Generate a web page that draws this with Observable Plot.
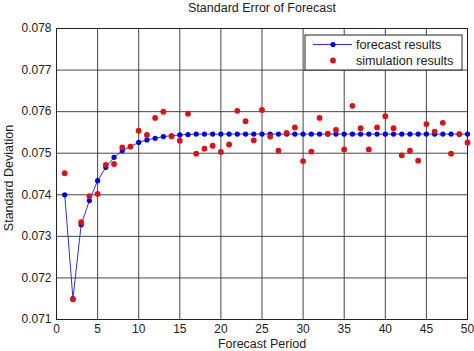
<!DOCTYPE html>
<html>
<head>
<meta charset="utf-8">
<script src="https://cdn.jsdelivr.net/npm/d3@7"></script>
<script src="https://cdn.jsdelivr.net/npm/@observablehq/plot@0.6"></script>
<style>
  html, body { margin: 0; padding: 0; background: #fff; }
  #chart { position: relative; width: 474px; height: 351px; }
  svg { font-family: "Liberation Sans", Arial, sans-serif; }
</style>
</head>
<body>
<div id="chart"></div>
<script>
const periods = [1,2,3,4,5,6,7,8,9,10,11,12,13,14,15,16,17,18,19,20,21,22,23,24,25,26,27,28,29,30,31,32,33,34,35,36,37,38,39,40,41,42,43,44,45,46,47,48,49,50];
const forecast = [0.07400,0.07150,0.07328,0.07386,0.07434,0.07466,0.07490,0.07506,0.07516,0.07526,0.07532,0.07536,0.07540,0.07542,0.07544,0.07545,0.07546,0.07546,0.07546,0.07546,0.07546,0.07546,0.07546,0.07546,0.07546,0.07546,0.07546,0.07546,0.07546,0.07546,0.07546,0.07546,0.07546,0.07546,0.07546,0.07546,0.07546,0.07546,0.07546,0.07546,0.07546,0.07546,0.07546,0.07546,0.07546,0.07546,0.07546,0.07546,0.07546,0.07546];
const simulation = [0.07452,0.07149,0.07334,0.07397,0.07402,0.07472,0.07474,0.07514,0.07516,0.07554,0.07544,0.07585,0.07600,0.07541,0.07530,0.07595,0.07499,0.07511,0.07518,0.07503,0.07521,0.07602,0.07577,0.07531,0.07604,0.07540,0.07506,0.07549,0.07562,0.07481,0.07504,0.07585,0.07547,0.07556,0.07509,0.07614,0.07560,0.07509,0.07562,0.07589,0.07560,0.07495,0.07506,0.07482,0.07570,0.07552,0.07573,0.07499,0.07546,0.07526];
const xTicks = [0,5,10,15,20,25,30,35,40,45,50];
const yTicks = [0.071,0.072,0.073,0.074,0.075,0.076,0.077,0.078];
const titleText = "Standard Error of Forecast";
const xLabel = "Forecast Period";
const yLabel = "Standard Deviation";
const seriesNames = ["forecast results", "simulation results"];

const fData = periods.map((p, i) => ({p, v: forecast[i]}));
const sData = periods.map((p, i) => ({p, v: simulation[i]}));

const chart = Plot.plot({
  width: 474,
  height: 351,
  marginLeft: 56,
  marginRight: 7,
  marginTop: 28,
  marginBottom: 32,
  style: {fontSize: "12px", fontFamily: "Liberation Sans, Arial, sans-serif", color: "#222", background: "#fff"},
  x: {domain: [0, 50], ticks: xTicks, tickSize: 0, tickPadding: 5, label: null},
  y: {domain: [0.071, 0.078], ticks: yTicks, tickSize: 0, tickPadding: 5, tickFormat: d3.format(".3f"), label: null},
  marks: [
    Plot.gridX(xTicks, {stroke: "#333", strokeOpacity: 0.9, strokeWidth: 1}),
    Plot.gridY(yTicks, {stroke: "#333", strokeOpacity: 0.9, strokeWidth: 1}),
    Plot.frame({stroke: "#222", strokeWidth: 1}),
    Plot.line(fData, {x: "p", y: "v", stroke: "#3030e0", strokeWidth: 1}),
    Plot.dot(fData, {x: "p", y: "v", r: 2.6, fill: "#0000ee", stroke: "none"}),
    Plot.dot(sData, {x: "p", y: "v", r: 2.9, fill: "#e01010", stroke: "none"}),
    Plot.text([titleText], {frameAnchor: "top", lineAnchor: "middle", dy: -21, fontSize: 12.5, fill: "#222"}),
    Plot.text([xLabel], {frameAnchor: "bottom", lineAnchor: "middle", textAnchor: "middle", dy: 24, fontSize: 12.5, fill: "#222"}),
    Plot.text([yLabel], {frameAnchor: "left", textAnchor: "middle", lineAnchor: "middle", dx: -48, dy: 4, rotate: -90, fontSize: 12.5, fill: "#222"})
  ]
});

document.getElementById("chart").appendChild(chart);

// legend inside the axes
const svg = d3.select(chart);
const lg = svg.append("g").attr("transform", "translate(305,35)");
lg.append("rect").attr("width", 157).attr("height", 35).attr("fill", "#fff").attr("stroke", "#222").attr("stroke-width", 1);
lg.append("line").attr("x1", 8).attr("x2", 47).attr("y1", 9.5).attr("y2", 9.5).attr("stroke", "#3030e0").attr("stroke-width", 1);
lg.append("circle").attr("cx", 28).attr("cy", 9.5).attr("r", 2.6).attr("fill", "#0000ee");
lg.append("circle").attr("cx", 28).attr("cy", 25.5).attr("r", 2.9).attr("fill", "#e01010");
lg.append("text").attr("x", 51).attr("y", 9.5).attr("dy", "0.35em").attr("text-anchor", "start").attr("font-size", 12.6).attr("fill", "#222").text(seriesNames[0]);
lg.append("text").attr("x", 51).attr("y", 25.5).attr("dy", "0.35em").attr("text-anchor", "start").attr("font-size", 12.6).attr("fill", "#222").text(seriesNames[1]);
</script>
</body>
</html>
